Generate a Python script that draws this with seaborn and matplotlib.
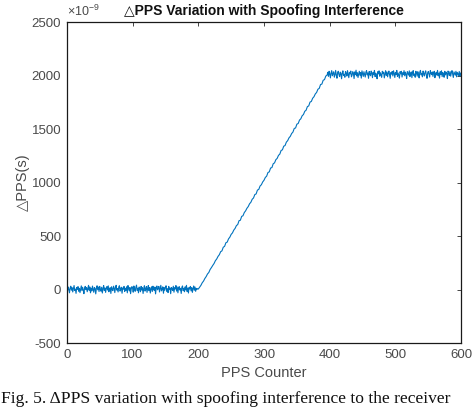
import numpy as np
import pandas as pd
import matplotlib
matplotlib.use("Agg")
import matplotlib.pyplot as plt
import seaborn as sns

# delta PPS (ns)
# before spoofing: counts 0..199
flat_low = [8, -12, 25, 3, -30, 15, 32, -5, 18, -22,
            10, 38, -8, 5, -35, 20, 2, 28, -15, 12,
            -28, 6, 35, -10, 22, -3, -38, 15, 30, 0,
            18, -20, 8, 40, -6, 25, -30, 12, -12, 33,
            5, -25, 20, 10, -40, 14, 36, -2, 24, -18,
            30, 4, -15, 22, -32, 9, 38, -8, 16, -26,
            12, 28, -4, 35, -20, 6, 18, -36, 26, 2,
            -10, 32, 14, -28, 20, 40, -5, 10, -22, 24,
            36, -14, 8, 22, -34, 16, 4, 30, -18, 12,
            -6, 26, -30, 38, 10, -12, 20, -38, 6, 28,
            15, -24, 34, 2, -16, 22, 42, -8, 12, -30,
            24, 8, -20, 30, -4, 18, -36, 10, 36, -14,
            4, 28, -26, 14, 38, -10, 20, -32, 8, 26,
            -18, 32, 6, -8, 24, -40, 16, 34, -2, 12,
            30, -22, 10, 40, -12, 4, 26, -34, 18, -6,
            22, 36, -16, 8, -28, 30, 2, 14, -38, 20,
            10, -8, 32, -24, 18, 6, 38, -14, 24, -30,
            16, 28, -4, 12, -36, 22, 34, -10, 8, -20,
            26, -2, 40, -18, 14, -32, 20, 6, 30, -12,
            18, -26, 8, 34, -6, 24, -16, 12, 2, 10]

# spoofing drift: counts 200..394, every 2nd count
ramp = [5, 22, 40, 64, 80, 104, 122, 146, 160, 188,
        206, 226, 244, 270, 286, 310, 326, 354, 362, 396,
        404, 438, 444, 474, 490, 516, 530, 556, 572, 598,
        608, 644, 648, 684, 690, 720, 736, 760, 776, 802,
        816, 844, 856, 888, 894, 930, 936, 968, 980, 1006,
        1022, 1048, 1060, 1094, 1100, 1136, 1140, 1176, 1184, 1214,
        1226, 1254, 1266, 1300, 1306, 1340, 1346, 1378, 1392, 1418,
        1432, 1458, 1472, 1506, 1510, 1546, 1552, 1584, 1596, 1624,
        1636, 1666, 1676, 1710, 1716, 1752, 1758, 1788, 1802, 1828,
        1842, 1872, 1880, 1916, 1920, 1956, 1962, 1995]

# after spoofing: counts 396..600
flat_high = [2005, 2030, 1992, 2040, 2015, 1978, 2025, 2045, 1998, 2020,
             2035, 1985, 2010, 2048, 2002, 1975, 2028, 2040, 2008, 1990,
             2032, 2018, 1970, 2024, 2044, 2000, 2012, 1984, 2038, 2022,
             1995, 2046, 2010, 1980, 2030, 2016, 2042, 1988, 2004, 2036,
             2020, 1972, 2034, 2008, 2050, 1996, 2026, 1982, 2014, 2040,
             2002, 2028, 1976, 2044, 2018, 1992, 2036, 2010, 1986, 2032,
             2046, 2006, 2024, 1974, 2038, 2014, 1998, 2042, 2020, 1980,
             2030, 2012, 2048, 1990, 2022, 2004, 1970, 2036, 2016, 2044,
             1994, 2026, 2008, 1984, 2040, 2018, 2032, 1978, 2012, 2046,
             2000, 2034, 1988, 2022, 2042, 2006, 1974, 2028, 2014, 2038,
             1996, 2044, 2020, 1982, 2030, 2010, 2048, 1992, 2024, 2002,
             1976, 2036, 2016, 2040, 1986, 2026, 2008, 2046, 1998, 2032,
             2012, 1972, 2038, 2022, 2004, 2044, 1990, 2018, 2034, 1980,
             2028, 2046, 2000, 2014, 1984, 2040, 2024, 1994, 2036, 2010,
             1978, 2032, 2048, 2006, 2020, 1988, 2042, 2016, 1996, 2030,
             2044, 2002, 1974, 2026, 2038, 2012, 1986, 2046, 2020, 2008,
             2034, 1992, 2024, 2040, 1980, 2016, 2030, 2004, 2048, 1998,
             2022, 1976, 2036, 2010, 2044, 1990, 2028, 2014, 1984, 2040,
             2006, 2032, 2018, 1972, 2042, 2024, 2000, 2038, 1994, 2026,
             2046, 2012, 1982, 2034, 2020, 2004, 2040, 1988, 2030, 2016,
             2000, 2038, 1994, 2024, 2010]

x_ticks = [0, 100, 200, 300, 400, 500, 600]
y_ticks = [-500, 0, 500, 1000, 1500, 2000, 2500]

counter = list(range(0, 200)) + list(range(200, 396, 2)) + list(range(396, 601))
df = pd.DataFrame({"counter": counter, "dpps": flat_low + ramp + flat_high})

sns.set_theme(style="white")
plt.rcParams["font.family"] = ["Liberation Sans", "DejaVu Sans"]
plt.rcParams["mathtext.fontset"] = "custom"
plt.rcParams["mathtext.rm"] = "Liberation Sans"
plt.rcParams["axes.unicode_minus"] = False

fig = plt.figure(figsize=(4.74, 4.08), dpi=100)
ax = fig.add_axes([0.141, 0.159, 0.832, 0.787])

sns.lineplot(data=df, x="counter", y="dpps", ax=ax, color="#0072BD", linewidth=0.8)

ax.set_xlim(0, 600)
ax.set_ylim(-500, 2500)
ax.set_xticks(x_ticks)
ax.set_yticks(y_ticks)
ax.tick_params(direction="in", length=3, width=0.6, color="#262626",
               labelcolor="#4a4a4a", labelsize=9.5, top=True, right=True, pad=4)
for s in ax.spines.values():
    s.set_color("#1a1a1a")
    s.set_linewidth(0.9)

ax.set_xlabel("PPS Counter", fontsize=10.5, color="#4a4a4a", labelpad=4)
ax.set_ylabel("△PPS(s)", fontsize=10.5, color="#4a4a4a", labelpad=1)
ax.set_title("△PPS Variation with Spoofing Interference", fontsize=10,
             fontweight="bold", color="#111111", pad=5)
ax.text(0.0, 1.008, r"$\times10^{-9}$", transform=ax.transAxes, fontsize=9,
        color="#4a4a4a", ha="left", va="bottom")

# figure caption (sits at the very bottom of the image)
fig.text(0.003, 0.003, "Fig. 5. ΔPPS variation with spoofing interference to the receiver",
         ha="left", va="bottom", fontsize=12.6, family="Liberation Serif", color="#111111")

fig.savefig("out.png", dpi=100)
